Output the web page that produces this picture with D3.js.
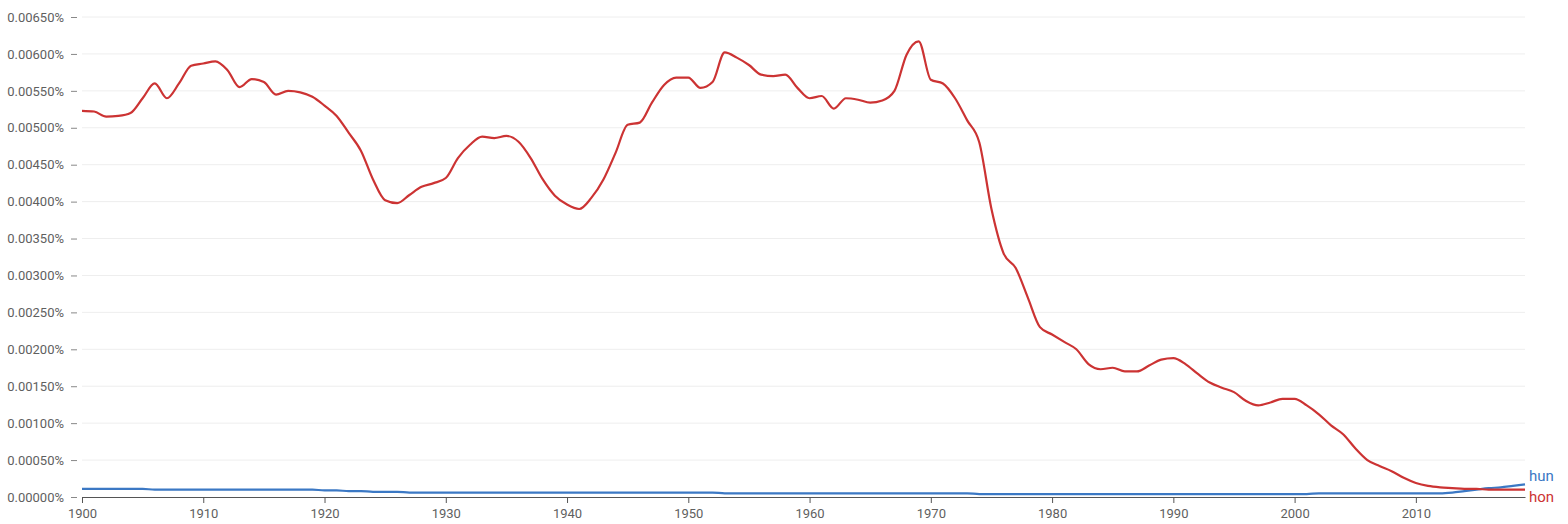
<!DOCTYPE html>
<html><head><meta charset="utf-8">
<script src="https://cdn.jsdelivr.net/npm/d3@7"></script>
<style>body{margin:0;background:#fff}text{font-family:Roboto,sans-serif}</style>
</head><body><svg id="c" width="1568" height="524"></svg>
<script>
const years = d3.range(1900, 2020);
const hon = [0.00523,0.00522,0.00515,0.00516,0.0052,0.0054,0.0056,0.0054,0.0056,0.00584,
0.00587,0.0059,0.00578,0.00555,0.00566,0.00562,0.00545,0.0055,0.00548,0.00542,
0.0053,0.00516,0.00493,0.00469,0.0043,0.00402,0.00398,0.00409,0.0042,0.00425,
0.00432,0.00459,0.00477,0.00488,0.00486,0.00489,0.00481,0.00459,0.0043,0.00408,
0.00396,0.0039,0.00405,0.0043,0.00466,0.00504,0.00507,0.00534,0.00558,0.00568,
0.00568,0.00554,0.00562,0.00602,0.00595,0.00585,0.00572,0.0057,0.00572,0.00554,
0.0054,0.00543,0.00526,0.0054,0.00538,0.00534,0.00537,0.0055,0.00599,0.00617,
0.00565,0.0056,0.0054,0.0051,0.0048,0.0039,0.0033,0.0031,0.0027,0.0023,
0.0022,0.0021,0.002,0.0018,0.00173,0.00175,0.0017,0.0017,0.00178,0.00186,
0.00188,0.0018,0.00167,0.00155,0.00148,0.00142,0.0013,0.00124,0.00128,0.00133,
0.00133,0.00124,0.00112,0.00097,0.00085,0.00066,0.0005,0.00042,0.00035,0.00026,
0.00019,0.00015,0.00013,0.00012,0.00011,0.00011,0.0001,0.0001,0.0001,0.0001];
const hun = [0.00011,0.00011,0.00011,0.00011,0.00011,0.00011,0.0001,0.0001,0.0001,0.0001,
0.0001,0.0001,0.0001,0.0001,0.0001,0.0001,0.0001,0.0001,0.0001,0.0001,
0.00009,0.00009,0.00008,0.00008,0.00007,0.00007,0.00007,0.00006,0.00006,0.00006,
0.00006,0.00006,0.00006,0.00006,0.00006,0.00006,0.00006,0.00006,0.00006,0.00006,
0.00006,0.00006,0.00006,0.00006,0.00006,0.00006,0.00006,0.00006,0.00006,0.00006,
0.00006,0.00006,0.00006,0.00005,0.00005,0.00005,0.00005,0.00005,0.00005,0.00005,
0.00005,0.00005,0.00005,0.00005,0.00005,0.00005,0.00005,0.00005,0.00005,0.00005,
0.00005,0.00005,0.00005,0.00005,0.00004,0.00004,0.00004,0.00004,0.00004,0.00004,
0.00004,0.00004,0.00004,0.00004,0.00004,0.00004,0.00004,0.00004,0.00004,0.00004,
0.00004,0.00004,0.00004,0.00004,0.00004,0.00004,0.00004,0.00004,0.00004,0.00004,
0.00004,0.00004,0.00005,0.00005,0.00005,0.00005,0.00005,0.00005,0.00005,0.00005,
0.00005,0.00005,0.00005,0.00006,0.00008,0.0001,0.00012,0.00013,0.00015,0.00017];
const yTicks = d3.range(0, 0.00651, 0.0005);
const xTicks = d3.range(1900, 2011, 10);
const seriesNames = ["hun","hon"];
const colors = {hun:"#3b78c4", hon:"#cc3333"};

const svg = d3.select("#c");
const x = d3.scaleLinear().domain([1900, 2019]).range([82, 1525]);
const y = d3.scaleLinear().domain([0, 0.0065]).range([497, 17]);

svg.append("g").selectAll("line").data(yTicks.slice(1)).join("line")
  .attr("x1", 82).attr("x2", 1525).attr("y1", d=>y(d)).attr("y2", d=>y(d))
  .attr("stroke", "#eeeeee");

const ya = svg.append("g").attr("transform","translate(82,0)")
  .call(d3.axisLeft(y).tickValues(yTicks).tickFormat(d=>d3.format(".5f")(d)+"%").tickSize(0).tickPadding(12));
ya.select(".domain").remove();
ya.selectAll("text").attr("fill","#5f5f5f").attr("font-size",13).attr("dx",-6);
ya.selectAll(".tick").append("line").attr("x1",-11).attr("x2",-5).attr("stroke","#888");

const xa = svg.append("g").attr("transform","translate(0,497)")
  .call(d3.axisBottom(x).tickValues(xTicks).tickFormat(d3.format("d")).tickSize(6).tickSizeOuter(0));
xa.select(".domain").attr("stroke","#555");
xa.selectAll("line").attr("stroke","#555");
xa.selectAll("text").attr("fill","#5f5f5f").attr("font-size",13).attr("dy","0.9em");

const line = d3.line().x((d,i)=>x(years[i])).y(d=>y(d)).curve(d3.curveMonotoneX);
const data = {hun, hon};
seriesNames.forEach(n=>{
  svg.append("path").attr("d", line(data[n])).attr("fill","none")
    .attr("stroke", colors[n]).attr("stroke-width", 2.2);
});
svg.append("text").attr("x",1529).attr("y",y(hun[119])-3).attr("fill",colors.hun).attr("font-size",15).text("hun");
svg.append("text").attr("x",1529).attr("y",y(hon[119])+12).attr("fill",colors.hon).attr("font-size",15).text("hon");
</script></body></html>
